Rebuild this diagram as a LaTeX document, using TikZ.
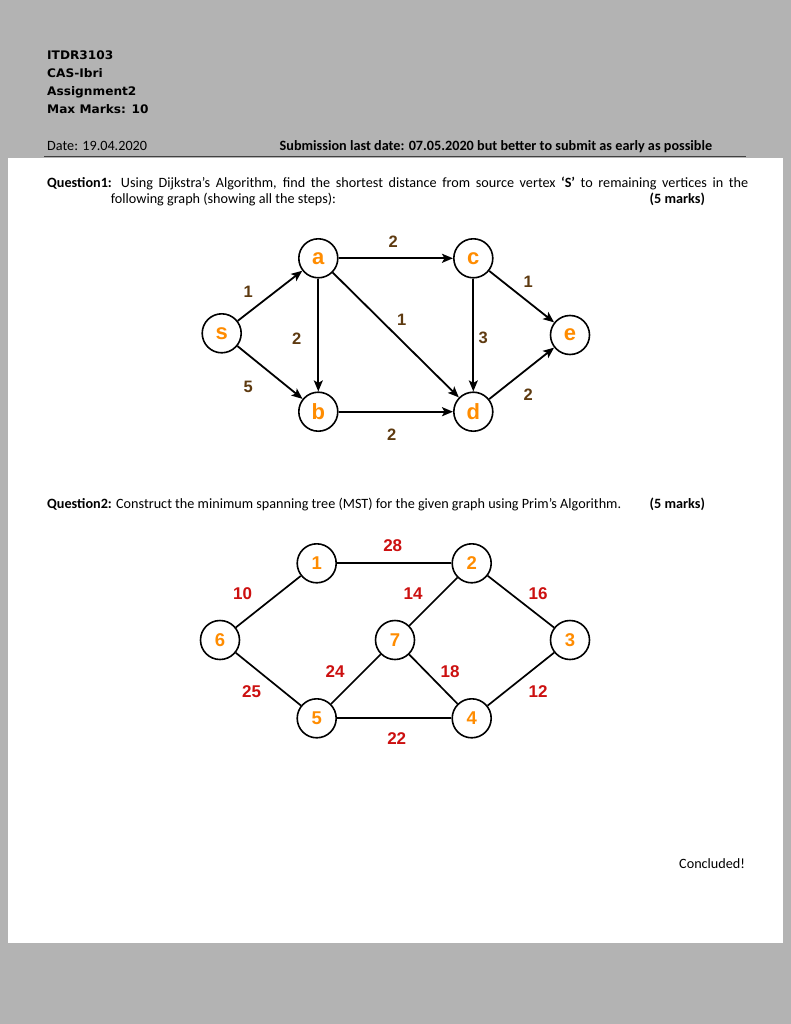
\documentclass[tikz,border=0pt]{standalone}
\usepackage{fontspec}
\setmainfont{Carlito}
\newfontfamily\hdr[FakeStretch=1.03]{DejaVu Sans}
\newfontfamily\arf{Liberation Sans}
\usetikzlibrary{arrows.meta}
\definecolor{pagegray}{RGB}{179,179,179}
\definecolor{vorange}{RGB}{255,140,0}
\definecolor{ebrown}{RGB}{94,58,16}
\definecolor{ered}{RGB}{204,16,16}
\definecolor{rulegray}{RGB}{64,64,64}
\tikzset{
  hdrtext/.style={anchor=base west, inner sep=0pt, font=\hdr\bfseries\fontsize{11.8}{14}\selectfont},
  bodytext/.style={anchor=base west, inner sep=0pt, font=\fontsize{14.2}{17}\selectfont},
  vtx/.style={circle, draw=black, line width=1.6pt, fill=white, minimum size=39pt, inner sep=0pt, text=vorange, font=\arf\bfseries\fontsize{22}{25}\selectfont},
  vtxnum/.style={vtx, font=\arf\bfseries\fontsize{18.5}{21}\selectfont},
  lbrown/.style={inner sep=0pt, text=ebrown, font=\arf\bfseries\fontsize{16.5}{19}\selectfont},
  lred/.style={inner sep=0pt, text=ered, font=\arf\bfseries\fontsize{17}{20}\selectfont},
  arr/.style={line width=1.8pt, -{Stealth[length=11pt,width=9pt,inset=2.5pt]}},
  arrh/.style={arr, line width=2.2pt},
  edge/.style={line width=1.7pt},
  edgeh/.style={line width=2.2pt}
}
\begin{document}
\begin{tikzpicture}[x=1pt,y=-1pt]
\fill[pagegray] (0,0) rectangle (791,1024);
\fill[white] (8,158) rectangle (783,943);
\useasboundingbox (0,0) rectangle (791,1024);

% header
\node[hdrtext] (h1) at (47,60) {ITDR3103};
\node[hdrtext] (h2) at (47,78) {CAS-Ibri};
\node[hdrtext] (h3) at (47,96) {Assignment2};
\node[hdrtext] (h4) at (47,114) {Max Marks: 10};
\node[bodytext] (date) at (47,151) {Date: 19.04.2020};
\node[bodytext] (sub) at (279.5,151) {\bfseries Submission last date: 07.05.2020 but better to submit as early as possible};
\coordinate (rl) at (44,157);
\coordinate (rr) at (746,157);
\draw[rulegray, line width=1pt] (rl) -- (rr);

% question 1
\node[bodytext] (q1a) at (47,188) {\makebox[701pt][s]{\textbf{Question1:} Using Dijkstra’s Algorithm, find the shortest distance from source vertex \textbf{‘S’} to remaining vertices in the}};
\node[bodytext] (q1b) at (110.7,203.5) {following graph (showing all the steps):};
\node[bodytext] (q1m) at (649.5,203.5) {\bfseries (5 marks)};

% graph 1
\node[vtx] (s) at (221.7,333.3) {s};
\node[vtx] (a) at (318.3,258.3) {a};
\node[vtx] (c) at (473.3,258.3) {c};
\node[vtx] (e) at (570,335) {e};
\node[vtx] (b) at (318.3,411.7) {b};
\node[vtx] (d) at (473.3,411.7) {d};
\draw[arr] (s) -- (a);
\draw[arr] (s) -- (b);
\draw[arr] (a) -- (b);
\draw[arrh] (a) -- (c);
\draw[arr] (a) -- (d);
\draw[arr] (c) -- (d);
\draw[arr] (c) -- (e);
\draw[arrh] (b) -- (d);
\draw[arr] (d) -- (e);
\node[lbrown] (w1) at (393.3,241.7) {2};
\node[lbrown] (w2) at (248.3,291.7) {1};
\node[lbrown] (w3) at (296.7,338.3) {2};
\node[lbrown] (w4) at (401.7,320) {1};
\node[lbrown] (w5) at (483.3,338.3) {3};
\node[lbrown] (w6) at (528.3,281.7) {1};
\node[lbrown] (w7) at (248.3,386.7) {5};
\node[lbrown] (w8) at (528.3,395) {2};
\node[lbrown] (w9) at (391.7,435) {2};

% question 2
\node[bodytext] (q2) at (47,508.5) {\textbf{Question2:} Construct the minimum spanning tree (MST) for the given graph using Prim’s Algorithm.};
\node[bodytext] (q2m) at (649.5,508.5) {\bfseries (5 marks)};

% graph 2
\node[vtxnum] (n1) at (316.7,563.3) {1};
\node[vtxnum] (n2) at (471.7,563.3) {2};
\node[vtxnum] (n6) at (220,640) {6};
\node[vtxnum] (n7) at (395,640) {7};
\node[vtxnum] (n3) at (570,640) {3};
\node[vtxnum] (n5) at (316.7,718.3) {5};
\node[vtxnum] (n4) at (471.7,718.3) {4};
\draw[edgeh] (n1) -- (n2);
\draw[edge] (n1) -- (n6);
\draw[edge] (n2) -- (n7);
\draw[edge] (n2) -- (n3);
\draw[edge] (n6) -- (n5);
\draw[edge] (n7) -- (n5);
\draw[edge] (n7) -- (n4);
\draw[edge] (n3) -- (n4);
\draw[edgeh] (n5) -- (n4);
\node[lred] (m28) at (392.7,546) {28};
\node[lred] (m10) at (242.7,594) {10};
\node[lred] (m14) at (413,594) {14};
\node[lred] (m16) at (538,594) {16};
\node[lred] (m24) at (335,671.7) {24};
\node[lred] (m18) at (450,671.7) {18};
\node[lred] (m25) at (251.7,691.7) {25};
\node[lred] (m12) at (538,691.7) {12};
\node[lred] (m22) at (396.7,738.5) {22};

\node[bodytext] (concl) at (679,868) {Concluded!};
\end{tikzpicture}
\end{document}
